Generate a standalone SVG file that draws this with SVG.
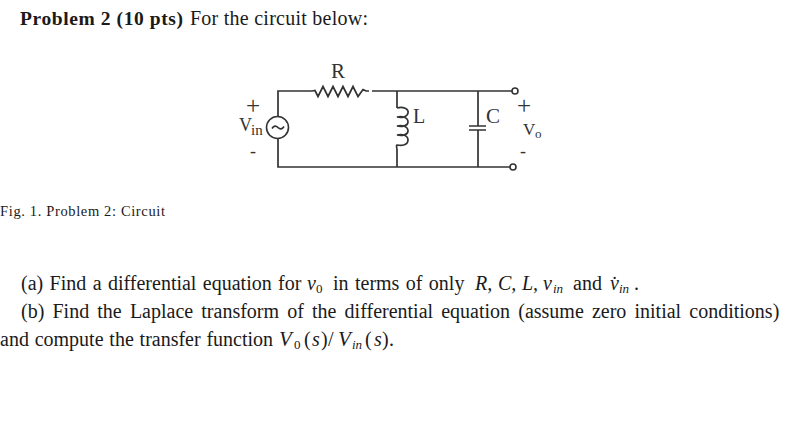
<svg xmlns="http://www.w3.org/2000/svg" width="804" height="433" viewBox="0 0 804 433">
<style>
text{font-family:"Liberation Serif","Times New Roman",serif;fill:#1a1a1a}
.t{font-size:20px}
.b{font-weight:bold;font-size:19.500px}
.i{font-style:italic}
.u{font-size:13px}
.s{font-size:14.500px}
.l{fill:#333}
.w{fill:none;stroke:#333;stroke-width:1.700}
.o{fill:#fff;stroke:#333;stroke-width:1.600}
</style>
<rect width="804" height="433" fill="#fff"/>
<text id="title" class="b" x="20" y="24.500" textLength="163">Problem 2 (10 pts)</text>
<text id="title2" class="t" x="190" y="24.500" textLength="178">For the circuit below:</text>
<g id="connectors">
<path class="w" d="M278 116V91H312M372 91H512M278 138V167H510M397 91V108M397 149V167M478 91V126M478 130V167"/>
<path class="w" d="M312 91l3 -0.500l3 6l5 -10l5 10l5 -10l5 10l5 -10l5 10l5 -10l5 10l5 -7l3 1.500h3"/>
<path class="w" d="M397 108c6 -2 12 1 11 5c-1 4 -6 5 -11 4c5 -1 11 0 11 5c0 4 -6 5 -11 4c5 -1 11 0 11 5c0 4 -6 5 -11 4c5 -1 11 0 11 5c0 5 -6 6 -11 5c-1 0 0 4 0 4"/>
</g>
<g id="source"><circle class="o" cx="277.500" cy="127.500" r="11"/><path class="w" d="M272 128.500c2 -3 4 -3 6 -1s4 2 6 -1"/><text class="l" x="239" y="131" style="font-size:18px">V</text><text class="l" x="251" y="134.500" style="font-size:15px">in</text><text class="l" x="253" y="114" style="font-size:25px" text-anchor="middle">+</text><text class="l" x="253" y="157" style="font-size:18px" text-anchor="middle">-</text></g>
<g id="resistor"><text class="l" x="338" y="78" style="font-size:21px" text-anchor="middle">R</text></g>
<g id="inductor"><text class="l" x="413" y="123" style="font-size:20px">L</text></g>
<g id="capacitor"><path class="w" d="M469 126H486M469 130H486"/><text class="l" x="486" y="123" style="font-size:21px">C</text></g>
<g id="terminals"><circle class="o" cx="515" cy="91" r="3"/><circle class="o" cx="513" cy="167" r="3"/><text class="l" x="524" y="114" style="font-size:25px" text-anchor="middle">+</text><text class="l" x="523" y="135" style="font-size:17px">V</text><text class="l" x="535" y="138" style="font-size:13px">o</text><text class="l" x="523" y="157" style="font-size:18px" text-anchor="middle">-</text></g>
<text id="fig" class="s" x="0" y="216" textLength="165">Fig. 1. Problem 2: Circuit</text>
<g id="a" class="t">
<text x="21" y="290" word-spacing="1.400">(a) Find a differential equation for</text>
<text class="i" x="307" y="290">v</text><text class="u" x="316" y="293">0</text>
<text x="333" y="290" word-spacing="1.400">in terms of only</text>
<text class="i" x="475" y="290">R,</text><text class="i" x="498" y="290">C,</text><text class="i" x="522" y="290">L,</text><text class="i" x="543" y="290">v</text><text class="i u" x="553" y="293">in</text>
<text x="573" y="290">and</text><text class="i" x="610" y="290">v̇</text><text class="i u" x="619" y="293">in</text><text x="634" y="290">.</text>
</g>
<text id="b" class="t" x="21" y="317.500" word-spacing="3.150">(b) Find the Laplace transform of the differential equation (assume zero initial conditions)</text>
<g id="c" class="t">
<text x="0" y="345.500" word-spacing="0.800">and compute the transfer function</text>
<text class="i" x="279" y="345.500" style="font-size:21px">V</text><text class="u" x="294" y="348.500">0</text><text x="304" y="345.500">(</text><text class="i" x="312" y="345.500">s</text><text x="321" y="345.500">)</text><text x="328" y="345.500">/</text><text class="i" x="338" y="345.500" style="font-size:21px">V</text><text class="i u" x="352" y="348.500">in</text><text x="365" y="345.500">(</text><text class="i" x="374" y="345.500">s</text><text x="382" y="345.500">)</text><text x="389" y="345.500">.</text>
</g>
</svg>
